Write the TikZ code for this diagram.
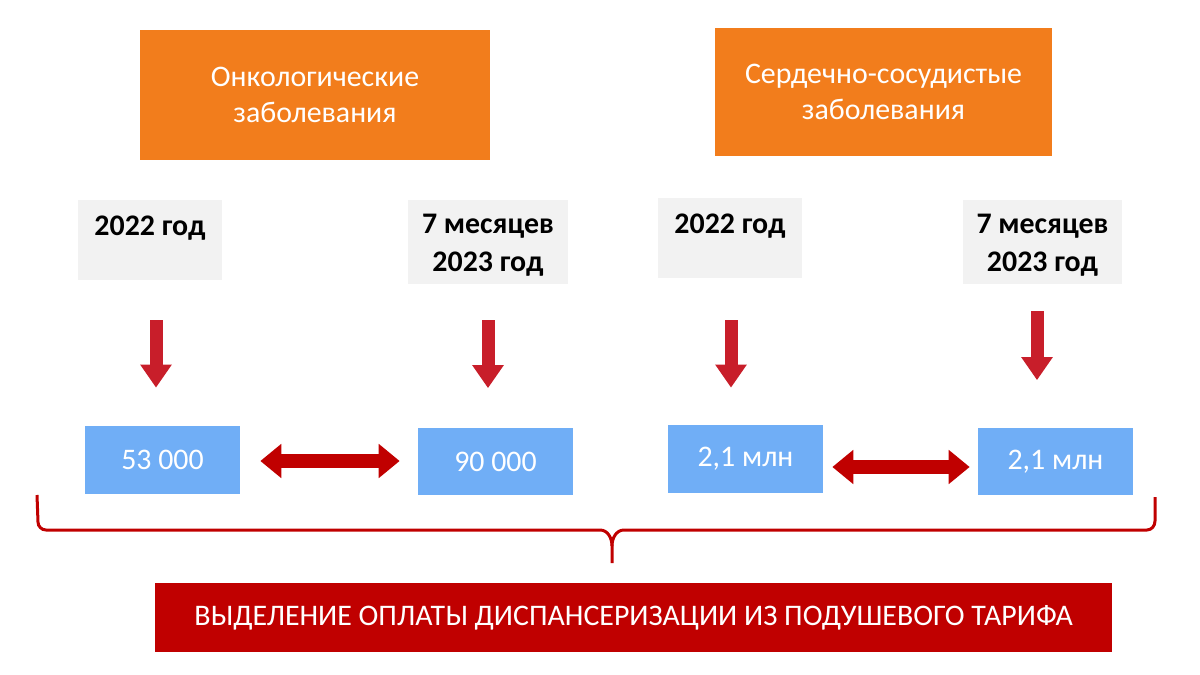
\documentclass[tikz,border=0pt]{standalone}
\usepackage{fontspec}
\setmainfont{Carlito}
\usepackage{xcolor}
\definecolor{orangebox}{HTML}{F27D1C}
\definecolor{greybox}{HTML}{F2F2F2}
\definecolor{bluebox}{HTML}{70AEF6}
\definecolor{darkred}{HTML}{C00000}
\definecolor{arrowred}{HTML}{C81E2A}
\usetikzlibrary{
    arrows.meta,
    calc
}

\begin{document}
\begin{tikzpicture}[
    x=0.02cm,
    y=-0.02cm,
    disease/.style={
        rectangle,
        fill=orangebox,
        text=white,
        align=center,
        font=\fontsize{17}{20.5}\selectfont
    },
    period/.style={
        rectangle,
        fill=greybox,
        align=center,
        inner ysep=0pt,
        text depth=3.5pt,
        font=\fontsize{17}{21.5}\selectfont\bfseries
    },
    amount/.style={
        rectangle,
        fill=bluebox,
        text=white,
        align=center,
        minimum width=3.1cm,
        minimum height=1.36cm,
        font=\fontsize{17}{19}\selectfont
    },
    banner/.style={
        rectangle,
        fill=darkred,
        text=white,
        align=center,
        minimum width=19.14cm,
        minimum height=1.38cm,
        font=\fontsize{17}{19}\selectfont
    },
    downarrow/.style={
        -{Triangle[length=0.46cm,width=0.6cm]},
        line width=0.26cm,
        draw=arrowred
    },
    bothways/.style={
        {Triangle[length=0.42cm,width=0.66cm]}-{Triangle[length=0.42cm,width=0.66cm]},
        line width=0.28cm,
        draw=darkred
    },
    brace/.style={
        draw=darkred,
        line width=0.06cm
    }
]
\useasboundingbox (0,0) rectangle (1200,675);

% =========================================================
% Disease groups
% =========================================================
\node[disease, minimum width=7cm, minimum height=2.6cm] (onco) at (315,95)
{Онкологические\\заболевания};

\node[disease, minimum width=6.74cm, minimum height=2.56cm] (cardio) at (883.5,92)
{Сердечно-сосудистые\\заболевания};

% =========================================================
% Periods
% =========================================================
\node[period, text height=41.5pt, minimum width=2.88cm, minimum height=1.6cm] (onco22) at (150,240)
{2022 год\\\phantom{2023 год}};

\node[period, text height=36.9pt, minimum width=3.2cm, minimum height=1.68cm] (onco23) at (488,242)
{7 месяцев\\2023 год};

\node[period, text height=41.5pt, minimum width=2.88cm, minimum height=1.6cm] (cardio22) at (730,238)
{2022 год\\\phantom{2023 год}};

\node[period, text height=36.9pt, minimum width=3.18cm, minimum height=1.68cm] (cardio23) at (1042.5,242)
{7 месяцев\\2023 год};

% =========================================================
% Amounts
% =========================================================
\node[amount] (onco22val) at (162.5,460) {53 000};
\node[amount] (onco23val) at (495.5,461.5) {90 000};
\node[amount] (cardio22val) at (745.5,459) {2,1 млн};
\node[amount] (cardio23val) at (1055.5,461.5) {2,1 млн};

% =========================================================
% Funding banner
% =========================================================
\node[banner] (funding) at (633.5,617.5)
{ВЫДЕЛЕНИЕ ОПЛАТЫ ДИСПАНСЕРИЗАЦИИ ИЗ ПОДУШЕВОГО ТАРИФА};

% =========================================================
% Period to amount arrows
% =========================================================
\draw[downarrow] ($(onco22.south)+(6,40)$) -- ($(onco22val.north)+(-6.5,-38)$);
\draw[downarrow] ($(onco23.south)+(0,36)$) -- ($(onco23val.north)+(-7.5,-39)$);
\draw[downarrow] ($(cardio22.south)+(1,42)$) -- ($(cardio22val.north)+(-14.5,-37)$);
\draw[downarrow] ($(cardio23.south)+(-5.5,27)$) -- ($(cardio23val.north)+(-18.5,-47)$);

% =========================================================
% Comparison arrows
% =========================================================
\draw[bothways] ($(onco22val.east)+(20,1)$) -- ($(onco23val.west)+(-18,-0.5)$);
\draw[bothways] ($(cardio22val.east)+(9,8)$) -- ($(cardio23val.west)+(-8,5.5)$);

% =========================================================
% Brace over the banner
% =========================================================
\draw[brace]
    (37,495) -- (38,522) to[out=-90,in=180] (46,530)
    -- (600,530) to[out=0,in=90] (612,546) -- (612,563);
\draw[brace]
    (612,546) to[out=90,in=180] (624,530)
    -- (1147,530) to[out=0,in=-90] (1155,521) -- (1155,497);

\end{tikzpicture}
\end{document}
